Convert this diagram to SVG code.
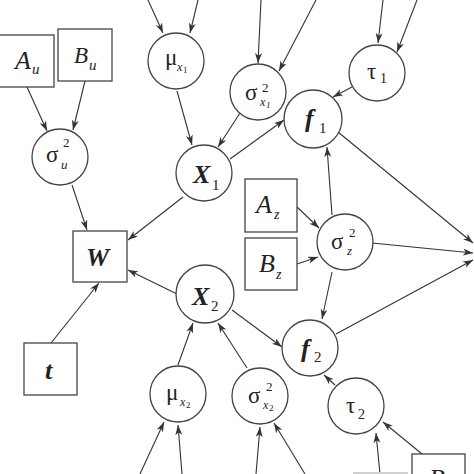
<svg xmlns="http://www.w3.org/2000/svg" width="474" height="474" viewBox="0 0 474 474" font-family="'Liberation Serif','DejaVu Serif','Times New Roman',serif">
<style>
.n{fill:#fff;stroke:#444;stroke-width:1.3}
.e{fill:none;stroke:#333;stroke-width:1.1;marker-end:url(#ah)}
text{font-family:"Liberation Serif","DejaVu Serif","Times New Roman",serif;fill:#222}
.g{font-size:23px}
.i{font-style:italic}
.bi{font-style:italic;font-weight:bold}
</style>
<defs>
<marker id="ah" markerUnits="userSpaceOnUse" markerWidth="11" markerHeight="8" refX="10" refY="3.5" orient="auto">
<path d="M0,0 L10,3.5 L0,7 L2.8,3.5 z" fill="#333"/>
</marker>
</defs>
<rect width="474" height="474" fill="#fff"/>
<g id="connectors">
<line class="e" x1="148" y1="0" x2="163" y2="33"/>
<line class="e" x1="198" y1="0" x2="190" y2="33"/>
<line class="e" x1="261" y1="0" x2="258" y2="63"/>
<line class="e" x1="316" y1="0" x2="279" y2="71"/>
<line class="e" x1="383" y1="0" x2="378" y2="43"/>
<line class="e" x1="417" y1="0" x2="397" y2="52"/>
<line class="e" x1="27" y1="87" x2="47" y2="131"/>
<line class="e" x1="85" y1="81" x2="73" y2="130"/>
<line class="e" x1="72" y1="185" x2="87" y2="230"/>
<line class="e" x1="177" y1="91" x2="192" y2="145"/>
<line class="e" x1="240" y1="113" x2="218" y2="147"/>
<line class="e" x1="352" y1="87" x2="333" y2="97"/>
<line class="e" x1="230" y1="159" x2="284" y2="120"/>
<line class="e" x1="183" y1="197" x2="128" y2="240"/>
<line class="e" x1="338" y1="132" x2="473" y2="243"/>
<line class="e" x1="332" y1="215" x2="327" y2="147"/>
<line class="e" x1="297" y1="207" x2="319" y2="228"/>
<line class="e" x1="297" y1="264" x2="318" y2="257"/>
<line class="e" x1="372" y1="243" x2="473" y2="253"/>
<line class="e" x1="332" y1="272" x2="322" y2="319"/>
<line class="e" x1="336" y1="334" x2="473" y2="260"/>
<line class="e" x1="177" y1="294" x2="128" y2="270"/>
<line class="e" x1="51" y1="343" x2="99" y2="283"/>
<line class="e" x1="232" y1="310" x2="282" y2="347"/>
<line class="e" x1="178" y1="365" x2="193" y2="323"/>
<line class="e" x1="247" y1="368" x2="218" y2="323"/>
<line class="e" x1="140" y1="474" x2="164" y2="422"/>
<line class="e" x1="182" y1="474" x2="178" y2="425"/>
<line class="e" x1="256" y1="474" x2="260" y2="427"/>
<line class="e" x1="305" y1="474" x2="274" y2="423"/>
<line class="e" x1="335" y1="385" x2="324" y2="375"/>
<line class="e" x1="380" y1="474" x2="376" y2="433"/>
<line class="e" x1="422" y1="454" x2="383" y2="422"/>
</g>
<g id="Au"><rect class="n" x="-1" y="35" width="55" height="52"/><text x="15" y="69" class="i" font-size="26">A</text><text x="32" y="74" class="i" font-size="15">u</text></g>
<g id="Bu"><rect class="n" x="58" y="29" width="54" height="52"/><text x="74" y="63" class="i" font-size="23">B</text><text x="89" y="70" class="i" font-size="15">u</text></g>
<g id="sigma_u"><circle class="n" cx="60" cy="157" r="28"/><text x="46" y="162" class="g">σ</text><text x="63" y="147" font-size="13">2</text><text x="61" y="169" class="i" font-size="13">u</text></g>
<g id="mu_x1"><circle class="n" cx="176" cy="61" r="28"/><text x="165" y="65" class="g">μ</text><text x="177" y="71" class="i" font-size="12">x</text><text x="183" y="73" font-size="9">1</text></g>
<g id="sigma_x1"><circle class="n" cx="258" cy="92" r="28"/><text x="245" y="100" class="g">σ</text><text x="262" y="92" font-size="13">2</text><text x="260" y="106" class="i" font-size="12">x</text><text x="266" y="108" class="i" font-size="9">1</text></g>
<g id="tau1"><circle class="n" cx="377" cy="73" r="28"/><text x="367" y="79" class="g">τ</text><text x="380" y="83" font-size="14">1</text></g>
<g id="X1"><circle class="n" cx="204" cy="173" r="28"/><text x="193" y="183" class="bi" font-size="26">X</text><text x="212" y="190" font-size="15">1</text></g>
<g id="f1"><circle class="n" cx="313" cy="119" r="29"/><text x="305" y="127" class="bi" font-size="26">f</text><text x="319" y="133" font-size="15">1</text></g>
<g id="W"><rect class="n" x="73" y="231" width="54" height="51"/><text x="86" y="266" class="bi" font-size="26">W</text></g>
<g id="Az"><rect class="n" x="245" y="179" width="52" height="53"/><text x="256" y="213" class="i" font-size="26">A</text><text x="274" y="219" class="i" font-size="14">z</text></g>
<g id="Bz"><rect class="n" x="245" y="238" width="52" height="52"/><text x="259" y="272" class="i" font-size="26">B</text><text x="276" y="279" class="i" font-size="14">z</text></g>
<g id="sigma_z"><circle class="n" cx="345" cy="242" r="28"/><text x="331" y="249" class="g">σ</text><text x="349" y="237" font-size="13">2</text><text x="347" y="255" class="i" font-size="13">z</text></g>
<g id="X2"><circle class="n" cx="205" cy="294" r="29"/><text x="192" y="305" class="bi" font-size="26">X</text><text x="211" y="311" font-size="15">2</text></g>
<g id="t"><rect class="n" x="24" y="343" width="53" height="52"/><text x="45" y="379" class="bi" font-size="26">t</text></g>
<g id="f2"><circle class="n" cx="310" cy="348" r="28"/><text x="301" y="357" class="bi" font-size="26">f</text><text x="314" y="362" font-size="15">2</text></g>
<g id="mu_x2"><circle class="n" cx="178" cy="394" r="28"/><text x="166" y="400" class="g">μ</text><text x="180" y="406" class="i" font-size="12">x</text><text x="186" y="408" font-size="9">2</text></g>
<g id="sigma_x2"><circle class="n" cx="260" cy="396" r="28"/><text x="248" y="403" class="g">σ</text><text x="266" y="391" font-size="13">2</text><text x="263" y="409" class="i" font-size="12">x</text><text x="269" y="411" font-size="9">2</text></g>
<g id="tau2"><circle class="n" cx="356" cy="406" r="28"/><text x="346" y="413" class="g">τ</text><text x="358" y="419" font-size="14">2</text></g>
<g id="B_bottom"><rect class="n" x="412" y="454" width="53" height="30"/><text x="429" y="487" class="i" font-size="26">B</text></g>
<g id="partial"><rect x="353" y="472" width="55" height="4" fill="#d0d0d0"/></g>
</svg>
